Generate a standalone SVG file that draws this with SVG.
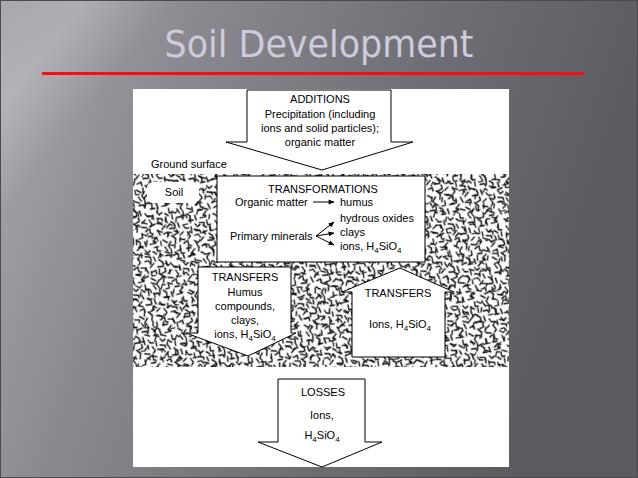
<svg xmlns="http://www.w3.org/2000/svg" width="638" height="478" viewBox="0 0 638 478">
<defs>
<linearGradient id="bg" x1="0" y1="0" x2="1" y2="0.25">
<stop offset="0" stop-color="#a9a8ae"/>
<stop offset="0.3" stop-color="#8a8990"/>
<stop offset="0.65" stop-color="#706f76"/>
<stop offset="1" stop-color="#5b5a60"/>
</linearGradient>
<linearGradient id="streak" x1="0" y1="0" x2="1" y2="0.6">
<stop offset="0" stop-color="#ffffff" stop-opacity="0"/>
<stop offset="0.1" stop-color="#ffffff" stop-opacity="0.18"/>
<stop offset="0.2" stop-color="#ffffff" stop-opacity="0"/>
</linearGradient>
<pattern id="soil" width="40" height="40" patternUnits="userSpaceOnUse" patternTransform="rotate(17)">
<rect width="40" height="40" fill="#fff"/>
<path fill="none" stroke="#111" stroke-width="1.4" stroke-linecap="round" stroke-linejoin="round" d="M1 2l3 2l3-1M9 1l2 4M14 3l5-1l1 2M22 1l3 3M28 2l4 1l2 3M35 1l3 4M3 8l-2 4M7 7l4 3l-1 3M15 8l3-2l3 2M24 7l-2 5M29 9l5-2M36 8l2 3l-3 3M2 16l5-1M10 15l2 4l3 0M18 14l4 4M25 16l3-3l2 3M33 15l5 2M4 22l2 4l-3 2M11 23l4-2M19 21l-2 5l3 1M26 22l5 1M34 21l-1 5l3 2M1 30l4 1l1 3M9 29l3 4M15 30l5-3M22 30l2 4l3-1M30 28l4 3M37 29l2 5M5 36l4-2M12 37l3 2l2-3M20 36l4 1M27 35l2 4M33 36l4-2l2 2M7 19l2-3M38 18l1 4M17 26l3 0"/>
</pattern>
<pattern id="soil2" width="37" height="37" patternUnits="userSpaceOnUse" patternTransform="rotate(-38)">
<path fill="none" stroke="#111" stroke-width="1.3" stroke-linecap="round" stroke-linejoin="round" d="M3 5l4-2l1 3M12 4l3 4M20 2l4 3l-2 2M30 5l3-3M5 13l2 4l3-1M16 12l5 1M26 11l-2 4l3 2M34 14l-3 4M2 24l3-3M10 22l4 3l-1 3M19 20l3 4M28 23l5-1l1 3M6 31l4 2M15 30l-2 4M23 31l4-3l2 2M32 30l3 4"/>
</pattern>
<marker id="ah" viewBox="0 0 10 10" refX="9" refY="5" markerWidth="7" markerHeight="6" orient="auto" markerUnits="userSpaceOnUse">
<path d="M0 1L10 5L0 9Z" fill="#000"/>
</marker>
<style>
.t{font-family:"Liberation Sans",Arial,sans-serif;font-size:11px;fill:#000}
.c{text-anchor:middle}
.box{fill:#fff;stroke:#000;stroke-width:1}
.ln{fill:none;stroke:#000;stroke-width:1}
.sub{font-size:8px}
</style>
</defs>
<rect width="638" height="478" fill="url(#bg)"/>
<rect width="638" height="478" fill="url(#streak)"/>
<rect x="0.5" y="0.5" width="637" height="477" fill="none" stroke="#4a4a50" stroke-width="1"/>
<text x="319" y="57" font-family="'DejaVu Sans',sans-serif" font-size="38" fill="#cdcbdc" text-anchor="middle" textLength="309" lengthAdjust="spacingAndGlyphs">Soil Development</text>
<rect x="42" y="72" width="542" height="3" fill="#e8141b"/>
<rect x="133" y="89" width="376" height="378" fill="#fff"/>
<rect id="soil-band" x="133" y="174" width="376" height="193" fill="url(#soil)"/>
<rect x="133" y="174" width="376" height="193" fill="url(#soil2)"/>
<text class="t" x="151" y="168">Ground surface</text>
<g id="soil-label">
<rect x="147" y="182" width="52" height="21" rx="6" fill="#fff"/>
<text class="t c" x="174" y="196">Soil</text>
</g>
<g id="additions">
<path class="box" d="M247 90H391V142H413L322 170L226 142H247Z"/>
<text class="t c" x="320" y="103">ADDITIONS</text>
<text class="t c" x="320" y="118">Precipitation (including</text>
<text class="t c" x="320" y="132">ions and solid particles);</text>
<text class="t c" x="320" y="146">organic matter</text>
</g>
<g id="transformations">
<rect class="box" x="217" y="176" width="208" height="86"/>
<text class="t c" x="323" y="193">TRANSFORMATIONS</text>
<text class="t" x="235" y="206">Organic matter</text>
<text class="t" x="340" y="206">humus</text>
<text class="t" x="340" y="222">hydrous oxides</text>
<text class="t" x="230" y="240">Primary minerals</text>
<text class="t" x="340" y="236">clays</text>
<text class="t" x="340" y="250">ions, H<tspan class="sub" dy="3">4</tspan><tspan dy="-3">SiO</tspan><tspan class="sub" dy="3">4</tspan></text>
</g>
<g id="transfers-down">
<path class="box" d="M198 267H291V333H296L248 356L186 333H198Z"/>
<text class="t c" x="245" y="281">TRANSFERS</text>
<text class="t c" x="245" y="296">Humus</text>
<text class="t c" x="245" y="310">compounds,</text>
<text class="t c" x="245" y="324">clays,</text>
<text class="t c" x="245" y="338">ions, H<tspan class="sub" dy="3">4</tspan><tspan dy="-3">SiO</tspan><tspan class="sub" dy="3">4</tspan></text>
</g>
<g id="transfers-up">
<path class="box" d="M352 357V292H342L400 268L454 292H445V357Z"/>
<text class="t c" x="398" y="297">TRANSFERS</text>
<text class="t c" x="400" y="328">Ions, H<tspan class="sub" dy="3">4</tspan><tspan dy="-3">SiO</tspan><tspan class="sub" dy="3">4</tspan></text>
</g>
<g id="losses">
<path class="box" d="M278 379H365V442H382L322 467L258 442H278Z"/>
<text class="t c" x="323" y="396">LOSSES</text>
<text class="t c" x="322" y="419">Ions,</text>
<text class="t c" x="322" y="439">H<tspan class="sub" dy="3">4</tspan><tspan dy="-3">SiO</tspan><tspan class="sub" dy="3">4</tspan></text>
</g>
<g id="connectors">
<line class="ln" x1="313" y1="202" x2="334" y2="202" marker-end="url(#ah)"/>
<line class="ln" x1="316" y1="236" x2="334" y2="222" marker-end="url(#ah)"/>
<line class="ln" x1="316" y1="236" x2="334" y2="233" marker-end="url(#ah)"/>
<line class="ln" x1="316" y1="236" x2="334" y2="245" marker-end="url(#ah)"/>
</g>
</svg>
